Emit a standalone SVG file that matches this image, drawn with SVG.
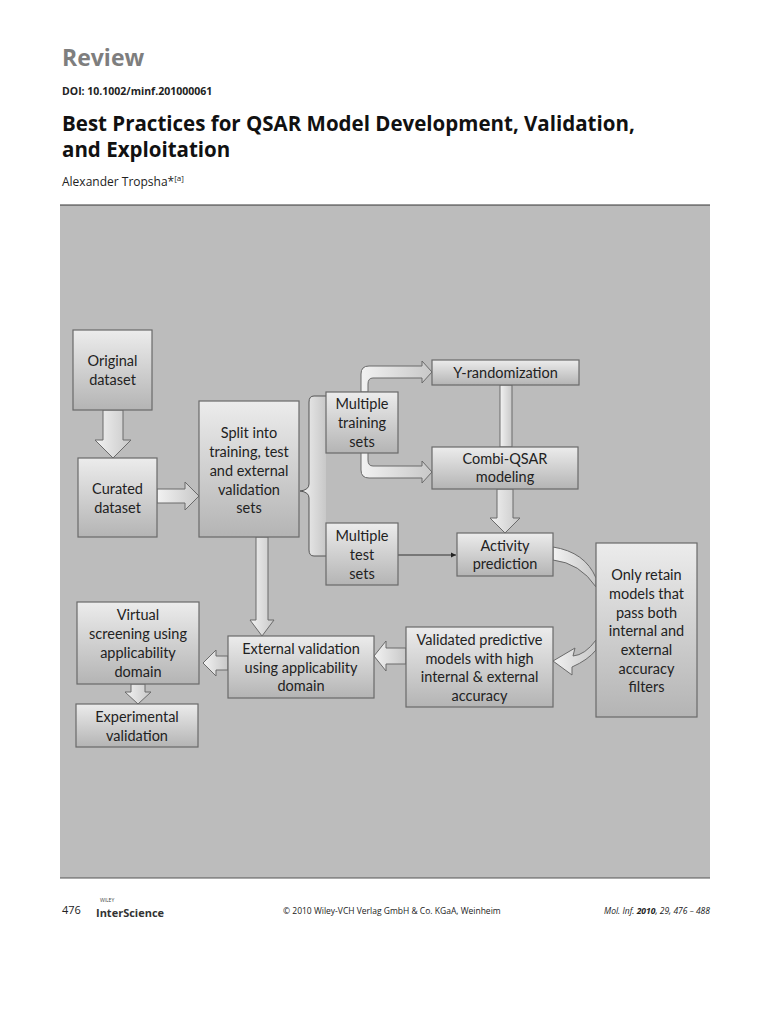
<svg xmlns="http://www.w3.org/2000/svg" width="768" height="1024" viewBox="0 0 768 1024">
<defs>
<linearGradient id="g" x1="0" y1="0" x2="0" y2="1"><stop offset="0" stop-color="#ececec"/><stop offset="1" stop-color="#b4b4b4"/></linearGradient>
<linearGradient id="ga" x1="0" y1="0" x2="1" y2="0"><stop offset="0" stop-color="#f2f2f2"/><stop offset="1" stop-color="#c8c8c8"/></linearGradient>
<marker id="m" markerWidth="6" markerHeight="6" refX="5" refY="3" orient="auto"><path d="M0,0.5 L5,3 L0,5.5z" fill="#222"/></marker>
</defs>
<style>
.b{fill:url(#g);stroke:#6a6a6a;stroke-width:1.2}
.t{font-family:Lato,"Open Sans",sans-serif;font-size:14.5px;fill:#222;text-anchor:middle}
.a{fill:url(#ga);stroke:#6a6a6a;stroke-width:1}
.h{font-family:"Open Sans","Liberation Sans",sans-serif}
</style>
<rect width="768" height="1024" fill="#fff"/>
<text x="62" y="66" class="h" font-size="23" font-weight="bold" fill="#7e7e7e">Review</text>
<text x="62" y="95" class="h" font-size="10.5" font-weight="bold" fill="#222">DOI: 10.1002/minf.201000061</text>
<text x="62" y="131" class="h" font-size="20.5" font-weight="bold" fill="#111">Best Practices for QSAR Model Development, Validation,</text>
<text x="62" y="157" class="h" font-size="20.5" font-weight="bold" fill="#111">and Exploitation</text>
<text x="62" y="186" class="h" font-size="12" fill="#222">Alexander Tropsha*<tspan font-size="8" dy="-5">[a]</tspan></text>
<rect x="60" y="205" width="650" height="673" fill="#bcbcbc"/>
<line x1="60" y1="205" x2="710" y2="205" stroke="#333" stroke-width="1"/>
<line x1="60" y1="878" x2="710" y2="878" stroke="#555" stroke-width="1"/>
<g id="connectors">
<path class="a" d="M103,410 H123 V440 H131 L113,458 L95,440 H103Z"/>
<path class="a" d="M157,489 H185 V482 L199,496 L185,510 V503 H157Z"/>
<path class="a" d="M256,537 H268 V620 H274 L262,636 L250,620 H256Z"/>
<path class="a" d="M497,489 H513 V518 H520 L505,533 L490,518 H497Z"/>
<rect class="a" x="500" y="385" width="12" height="62"/>
<path class="a" d="M406,648 H386 V641 L374,656 L386,671 V664 H406Z"/>
<path class="a" d="M228,656 H216 V650 L203,663 L216,676 V670 H228Z"/>
<path class="a" d="M131,684 H145 V692 H151 L138,704 L125,692 H131Z"/>
<path class="a" d="M361,392 V374 Q361,366 369,366 H422 V361 L432,372 L422,383 V378 H373 Q368,378 368,384 V392Z"/>
<path class="a" d="M361,452 V470 Q361,478 369,478 H422 V483 L432,472 L422,461 V466 H373 Q368,466 368,460 V452Z"/>
<path d="M326,396 H314 Q309,396 309,402 V484 Q309,490 300,491 Q309,492 309,498 V550 Q309,556 314,556 H326" fill="url(#ga)" stroke="#555" stroke-width="1"/>
<line x1="398" y1="555" x2="456" y2="555" stroke="#333" stroke-width="1" marker-end="url(#m)"/>
<path d="M553,547 Q585,552 596,578 L596,587 Q580,563 553,560Z" fill="url(#ga)" stroke="#6a6a6a" stroke-width="1"/>
<path d="M596,640 Q585,655 573,656 L575,648 L553,661 L572,675 L572,667 Q588,660 596,650Z" fill="url(#ga)" stroke="#6a6a6a" stroke-width="1"/>
</g>
<g id="original"><rect class="b" x="73" y="330" width="79" height="80"/><text class="t" x="112.5" y="366">Original</text><text class="t" x="112.5" y="385">dataset</text></g>
<g id="curated"><rect class="b" x="78" y="458" width="79" height="79"/><text class="t" x="117.5" y="494">Curated</text><text class="t" x="117.5" y="513">dataset</text></g>
<g id="split"><rect class="b" x="199" y="401" width="100" height="136"/><text class="t" x="249" y="438">Split into</text><text class="t" x="249" y="457">training, test</text><text class="t" x="249" y="476">and external</text><text class="t" x="249" y="495">validation</text><text class="t" x="249" y="513">sets</text></g>
<g id="training"><rect class="b" x="326" y="392" width="72" height="61"/><text class="t" x="362" y="409">Multiple</text><text class="t" x="362" y="428">training</text><text class="t" x="362" y="447">sets</text></g>
<g id="test"><rect class="b" x="326" y="523" width="72" height="62"/><text class="t" x="362" y="541">Multiple</text><text class="t" x="362" y="560">test</text><text class="t" x="362" y="579">sets</text></g>
<g id="yrand"><rect class="b" x="432" y="360" width="147" height="25"/><text class="t" x="505.5" y="378">Y-randomization</text></g>
<g id="combi"><rect class="b" x="432" y="447" width="146" height="42"/><text class="t" x="505" y="464">Combi-QSAR</text><text class="t" x="505" y="482">modeling</text></g>
<g id="activity"><rect class="b" x="457" y="533" width="96" height="43"/><text class="t" x="505" y="551">Activity</text><text class="t" x="505" y="569">prediction</text></g>
<g id="retain"><rect class="b" x="596" y="543" width="101" height="174"/><text class="t" x="646.5" y="580">Only retain</text><text class="t" x="646.5" y="599">models that</text><text class="t" x="646.5" y="618">pass  both</text><text class="t" x="646.5" y="636">internal and</text><text class="t" x="646.5" y="655">external</text><text class="t" x="646.5" y="674">accuracy</text><text class="t" x="646.5" y="692">filters</text></g>
<g id="validated"><rect class="b" x="406" y="627" width="147" height="80"/><text class="t" x="479.5" y="645">Validated predictive</text><text class="t" x="479.5" y="664">models with high</text><text class="t" x="479.5" y="682">internal &amp; external</text><text class="t" x="479.5" y="701">accuracy</text></g>
<g id="external"><rect class="b" x="228" y="636" width="146" height="62"/><text class="t" x="301" y="654">External validation</text><text class="t" x="301" y="673">using applicability</text><text class="t" x="301" y="691">domain</text></g>
<g id="virtual"><rect class="b" x="77" y="602" width="122" height="82"/><text class="t" x="138" y="620">Virtual</text><text class="t" x="138" y="639">screening using</text><text class="t" x="138" y="658">applicability</text><text class="t" x="138" y="677">domain</text></g>
<g id="experimental"><rect class="b" x="76" y="704" width="122" height="43"/><text class="t" x="137" y="722">Experimental</text><text class="t" x="137" y="741">validation</text></g>
<text x="62" y="914" class="h" font-size="11" fill="#222">476</text>
<text x="100" y="902" class="h" font-size="5" fill="#444">WILEY</text>
<text x="96" y="917" class="h" font-size="11" font-weight="bold" fill="#333">InterScience</text>
<text x="283" y="914" class="h" font-size="8.5" fill="#222">© 2010 Wiley-VCH Verlag GmbH &amp; Co. KGaA, Weinheim</text>
<text x="710" y="914" class="h" font-size="8.5" font-style="italic" fill="#222" text-anchor="end">Mol. Inf. <tspan font-weight="bold">2010</tspan>, 29, 476 – 488</text>
</svg>
